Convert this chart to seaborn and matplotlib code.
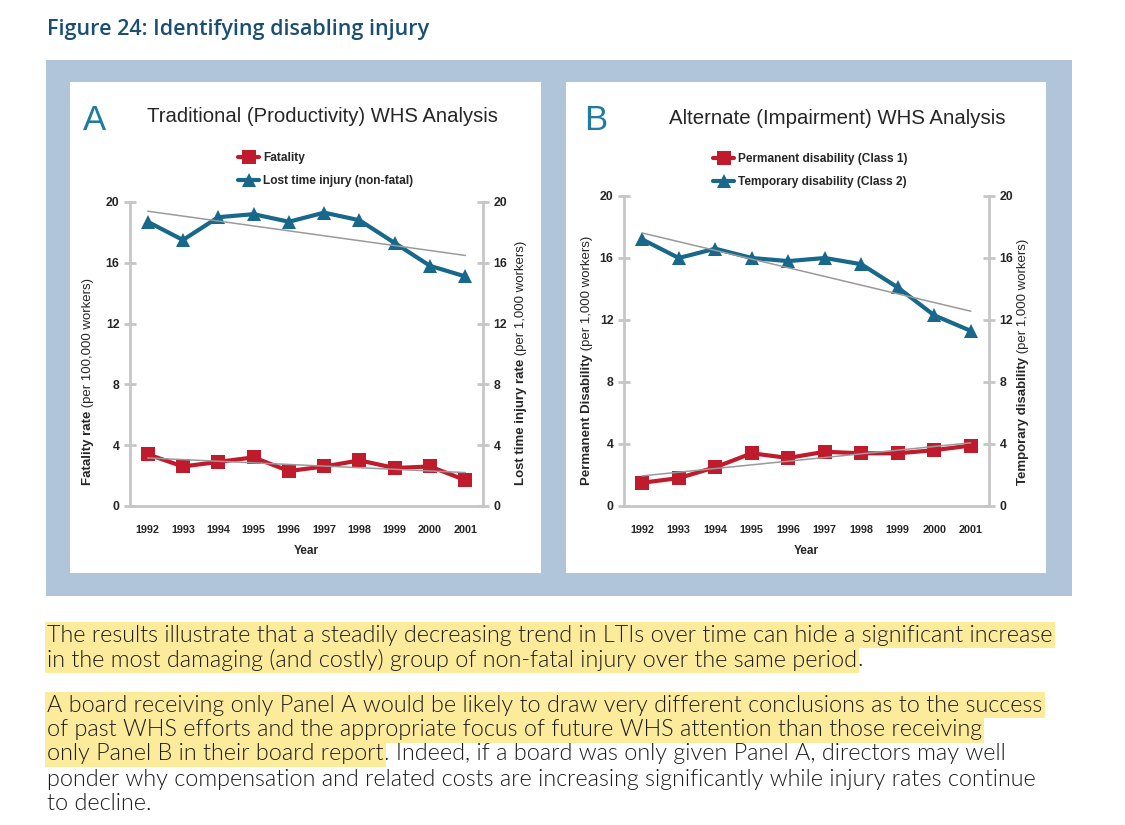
import numpy as np
import matplotlib.pyplot as plt
import matplotlib.patches as mpatches
import seaborn as sns

# ---- data ----
years = [1992, 1993, 1994, 1995, 1996, 1997, 1998, 1999, 2000, 2001]

fatality = [3.4, 2.6, 2.9, 3.2, 2.3, 2.6, 3.0, 2.5, 2.6, 1.7]
lost_time = [18.7, 17.5, 19.0, 19.2, 18.7, 19.3, 18.8, 17.3, 15.8, 15.1]

permanent = [1.5, 1.8, 2.5, 3.4, 3.1, 3.5, 3.4, 3.4, 3.6, 3.9]
temporary = [17.2, 16.0, 16.6, 16.0, 15.8, 16.0, 15.6, 14.1, 12.3, 11.3]

y_ticks = [0, 4, 8, 12, 16, 20]

sns.set_style("white")
plt.rcParams['font.family'] = ['Liberation Sans', 'DejaVu Sans']

RED = '#c01b2c'
BLUE = '#17688a'
GREY = '#c6c6c6'
TREND = '#9a9a9a'
BODY = ['Lato', 'DejaVu Sans']

fig = plt.figure(figsize=(11.25, 8.25), dpi=100)
W, H = 1125, 825


def fx(px):
    return px / W


def fy(py):
    return 1 - py / H


def fit(t, target_px):
    # scale a text's font size so it spans target_px horizontally
    w = t.get_window_extent(fig.canvas.get_renderer()).width
    t.set_fontsize(t.get_fontsize() * target_px / w)
    return t.get_fontsize()


# background frame and white panels (behind the axes)
fig.patches.append(mpatches.Rectangle((fx(46), fy(596)), fx(1026), 536 / H,
                                      transform=fig.transFigure, fc='#b1c5da', ec='none', zorder=-2))
for x0, x1 in [(70, 541), (566, 1046)]:
    fig.patches.append(mpatches.Rectangle((fx(x0), fy(573)), fx(x1 - x0), 491 / H,
                                          transform=fig.transFigure, fc='white', ec='none', zorder=-1))

t = fig.text(fx(47), fy(29), 'Figure 24: Identifying disabling injury', family=['Open Sans', 'DejaVu Sans'],
             fontweight='semibold', fontsize=14, color='#1b4f72', va='center', ha='left')
fit(t, 386)


def rot_label(x, y0, bold, rest, size=9.5):
    t = fig.text(fx(x), fy(y0), bold, rotation=90, ha='center', va='bottom',
                 fontsize=size, fontweight='bold')
    fig.add_artist(plt.Annotation(rest, xy=(0.5, 1), xycoords=t, rotation=90,
                                  ha='center', va='bottom', fontsize=size))


def draw_panel(rect, s1, s2, names, letter, title, letter_xy, title_xy, title_w, leg_xy):
    ax = fig.add_axes(rect)
    ax.patch.set_alpha(0)
    sns.regplot(x=years, y=s1, scatter=False, ci=None, truncate=True, color=TREND,
                line_kws={'lw': 1.1, 'zorder': 4}, ax=ax)
    sns.regplot(x=years, y=s2, scatter=False, ci=None, truncate=True, color=TREND,
                line_kws={'lw': 1.1, 'zorder': 4}, ax=ax)
    sns.lineplot(x=years, y=s1, color=RED, lw=3, marker='s', markersize=10,
                 markeredgewidth=0, label=names[0], ax=ax, zorder=3)
    sns.lineplot(x=years, y=s2, color=BLUE, lw=3, marker='^', markersize=10.5,
                 markeredgewidth=0, label=names[1], ax=ax, zorder=3)

    ax.set_xlim(1991.5, 2001.5)
    ax.set_ylim(0, 20)
    ax.set_xticks(np.arange(1991.5, 2002, 1))
    ax.set_xticklabels([])
    ax.set_xticks(years, minor=True)
    ax.set_xticklabels([str(y) for y in years], minor=True, fontsize=7.8, fontweight='bold')
    ax.tick_params(axis='x', which='major', direction='out', length=7, width=2, color=GREY)
    ax.tick_params(axis='x', which='minor', length=0, pad=14)
    ax.set_yticks(y_ticks)
    ax.set_yticklabels([str(v) for v in y_ticks], fontsize=8.8, fontweight='bold')
    ax.tick_params(axis='y', direction='inout', length=9, width=2, color=GREY, pad=3)
    for s in ['top', 'right']:
        ax.spines[s].set_visible(False)
    for s in ['left', 'bottom']:
        ax.spines[s].set_color(GREY)
        ax.spines[s].set_linewidth(2)
    ax.set_xlabel('Year', fontsize=8.5, fontweight='bold', labelpad=7)
    ax.set_ylabel('')

    ax2 = ax.twinx()
    ax2.set_ylim(0, 20)
    ax2.set_yticks(y_ticks)
    ax2.set_yticklabels([str(v) for v in y_ticks], fontsize=8.8, fontweight='bold')
    ax2.tick_params(axis='y', direction='inout', length=9, width=2, color=GREY, pad=3)
    for s in ['top', 'left', 'bottom']:
        ax2.spines[s].set_visible(False)
    ax2.spines['right'].set_color(GREY)
    ax2.spines['right'].set_linewidth(2)

    ax.legend(loc='upper left', bbox_to_anchor=leg_xy, bbox_transform=fig.transFigure,
              frameon=False, borderpad=0, handlelength=1.8, handletextpad=0.3,
              labelspacing=0.95, prop={'size': 8.6, 'weight': 'bold'})

    fig.text(fx(letter_xy[0]), fy(letter_xy[1]), letter, fontsize=25, color='#1f7ba0',
             ha='left', va='center')
    tt = fig.text(fx(title_xy[0]), fy(title_xy[1]), title, fontsize=16, ha='left', va='center')
    fit(tt, title_w)
    return ax


draw_panel([fx(130), fy(506), fx(353), 304 / H], fatality, lost_time,
           ['Fatality', 'Lost time injury (non-fatal)'], 'A',
           'Traditional (Productivity) WHS Analysis', (83, 121), (147, 117), 351, (fx(232), fy(146)))
draw_panel([fx(624), fy(506), fx(365), 310 / H], permanent, temporary,
           ['Permanent disability (Class 1)', 'Temporary disability (Class 2)'], 'B',
           'Alternate (Impairment) WHS Analysis', (584, 121), (669, 119), 337, (fx(707), fy(147)))

rot_label(88, 485, 'Fatality rate', ' (per 100,000 workers)')
rot_label(521, 485, 'Lost time injury rate', ' (per 1,000 workers)')
rot_label(587, 485, 'Permanent Disability', ' (per 1,000 workers)')
rot_label(1023, 485, 'Temporary disability', ' (per 1,000 workers)')

# ---- body text with highlighted passages ----
HL = dict(boxstyle='square,pad=0.1', fc='#fdeb9c', ec='none')
para_lines = [
    (635, 'The results illustrate that a steadily decreasing trend in LTIs over time can hide a significant increase', ''),
    (660, 'in the most damaging (and costly) group of non-fatal injury over the same period', '.'),
    (705, 'A board receiving only Panel A would be likely to draw very different conclusions as to the success', ''),
    (730, 'of past WHS efforts and the appropriate focus of future WHS attention than those receiving', ''),
    (754, 'only Panel B in their board report', '. Indeed, if a board was only given Panel A, directors may well'),
    (779, '', 'ponder why compensation and related costs are increasing significantly while injury rates continue'),
    (804, '', 'to decline.'),
]
probe = fig.text(0, 0, para_lines[0][1], family=BODY, fontweight=300, fontsize=14)
body_size = fit(probe, 1009)
probe.remove()
body_kw = dict(family=BODY, fontweight=300, fontsize=body_size, color='#1c1c1c',
               ha='left', va='center')
for y, marked, plain in para_lines:
    if marked:
        t = fig.text(fx(47), fy(y), marked, bbox=HL, **body_kw)
        if plain:
            fig.add_artist(plt.Annotation(plain, xy=(1, 0.5), xycoords=t, **body_kw))
    else:
        fig.text(fx(47), fy(y), plain, **body_kw)

fig.savefig('out.png', dpi=100)
